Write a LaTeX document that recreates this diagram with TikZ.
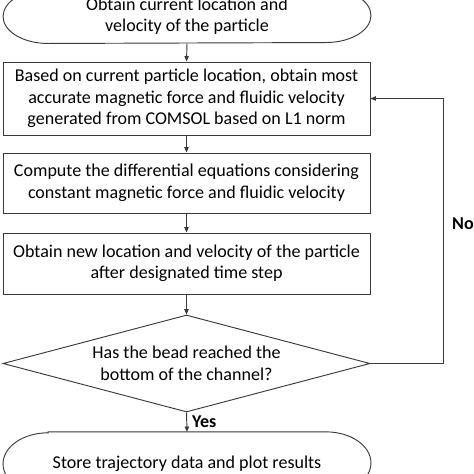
\documentclass[tikz,border=0pt]{standalone}
\usepackage{fontspec}
\setmainfont{Carlito}
\usetikzlibrary{arrows.meta,shapes.geometric,calc}
\definecolor{dark}{HTML}{3A3A3A}
\tikzset{
  box/.style={draw=dark, line width=0.8pt, align=center, minimum width=11.01cm, inner sep=1mm,
    font=\fontsize{15.4}{18.3}\selectfont},
  termbox/.style={box, draw=none, minimum height=1.86cm},
  decision/.style={box, diamond, aspect=3.8, minimum width=11.01cm, minimum height=2.91cm, inner sep=0pt},
  arrow/.style={-{Triangle[length=1.6mm,width=1.3mm]}, line width=0.8pt, draw=dark},
  answer/.style={font=\fontsize{15.4}{18}\selectfont\bfseries, inner sep=0pt}
}
% outline of a terminator node with elliptical ends (#2 = half height)
\newcommand{\termframe}[2]{%
  \draw[dark, line width=0.8pt]
    ([xshift=1.35cm]#1.north west) -- ([xshift=-1.35cm]#1.north east)
    arc[start angle=90, end angle=-90, x radius=1.35cm, y radius=#2]
    -- ([xshift=1.35cm]#1.south west)
    arc[start angle=270, end angle=90, x radius=1.35cm, y radius=#2] -- cycle;}

\begin{document}
\begin{tikzpicture}
  \useasboundingbox (0,0) rectangle (14.22,-14.22);

  % main column
  \node[termbox, minimum height=1.62cm] (start) at (5.61,-0.48) {Obtain current location and\\velocity of the particle};
  \termframe{start}{0.81cm}
  \node[box, minimum height=2.19cm] (lookup) at (5.595,-2.955) {Based on current particle location, obtain most\\accurate magnetic force and fluidic velocity\\generated from COMSOL based on L1 norm};
  \node[box, minimum height=1.8cm] (solve) at (5.595,-5.49) {Compute the differential equations considering\\constant magnetic force and fluidic velocity};
  \node[box, minimum height=1.83cm] (update) at (5.595,-7.905) {Obtain new location and velocity of the particle\\after designated time step};
  \node[decision] (check) at (5.595,-10.905) {Has the bead reached the\\bottom of the channel?};
  \node[termbox] (store) at (5.61,-13.9) {Store trajectory data and plot results};
  \termframe{store}{0.93cm}

  % downward arrows
  \draw[arrow] (start.south) -- (lookup.north);
  \draw[arrow] (lookup.south) -- (solve.north);
  \draw[arrow] (solve.south) -- (update.north);
  \draw[arrow] (update.south) -- (check.north);
  \draw[arrow] (check.south) -- node[answer, right=1.5mm] (yes) {Yes} (store.north);

  % loop back when the bead is not at the bottom
  \coordinate (turn) at (13.29,0);
  \draw[arrow] (check.east) -| (turn |- lookup.east) -- (lookup.east);
  \node[answer, anchor=west] (no) at (13.56,-6.72) {No};
\end{tikzpicture}
\end{document}
